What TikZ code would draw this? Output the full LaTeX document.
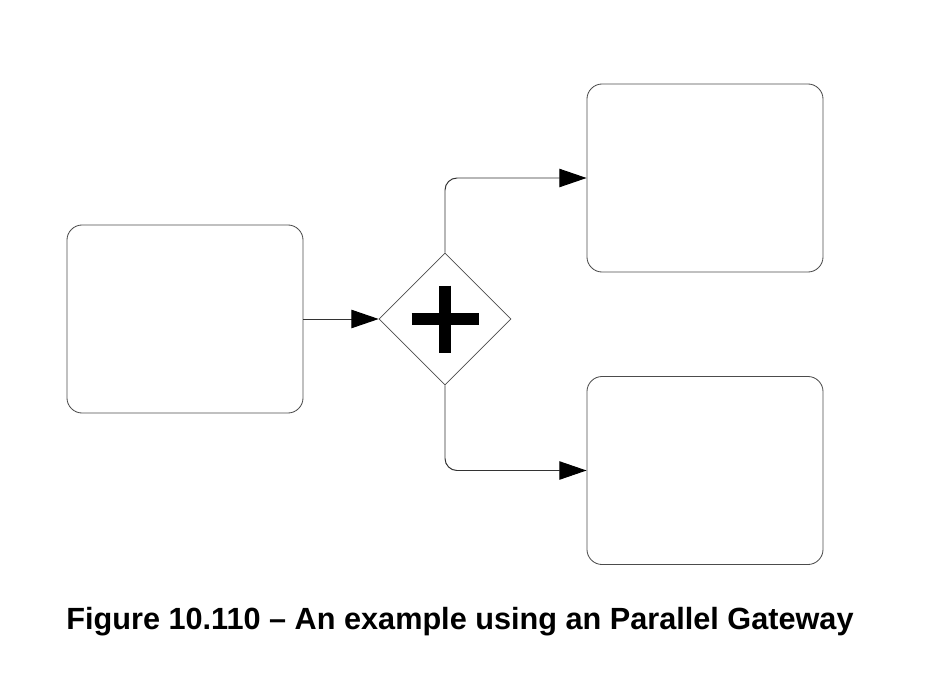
\documentclass[tikz,border=0pt]{standalone}
\usepackage{fontspec}
\setmainfont{Liberation Sans}
\usetikzlibrary{arrows.meta,calc,shapes.geometric}

\begin{document}
\begin{tikzpicture}[x=0.025cm, y=-0.025cm, >={Triangle[length=0.68cm,width=0.46cm,color=black]}]
    \tikzset{
        task/.style={draw, gray!60!black, line width=0.6pt, rounded corners=0.38cm,
            minimum width=5.9cm, minimum height=4.7cm, inner sep=0pt},
        gate/.style={draw, gray!60!black, line width=0.5pt, diamond, aspect=1,
            minimum width=3.3cm, minimum height=3.3cm, inner sep=0pt},
        flow/.style={->, line width=0.7pt, black!80}
    }
    \useasboundingbox (0,0) rectangle (928,678);

    % Tasks
    \node[task] (start) at (185,319) {};
    \node[task] (upper) at (705,178) {};
    \node[task] (lower) at (705,470.5) {};

    % Parallel gateway
    \node[gate] (fork) at (445,319) {};
    \draw[line width=0.31cm] ($(fork.center)+(-33.5,0)$) -- ($(fork.center)+(33.5,0)$);
    \draw[line width=0.31cm] ($(fork.center)+(0,-33.5)$) -- ($(fork.center)+(0,33.5)$);

    % Sequence flows
    \draw[flow] (start.east) -- (fork.west);
    \draw[flow, rounded corners=0.3cm] (fork.north) |- (upper.west);
    \draw[flow, rounded corners=0.3cm] (fork.south) |- (lower.west);

    % Caption
    \node[font=\fontsize{21.8}{26}\selectfont\bfseries] (caption) at (460,622)
        {Figure 10.110 – An example using an Parallel Gateway};
\end{tikzpicture}
\end{document}
